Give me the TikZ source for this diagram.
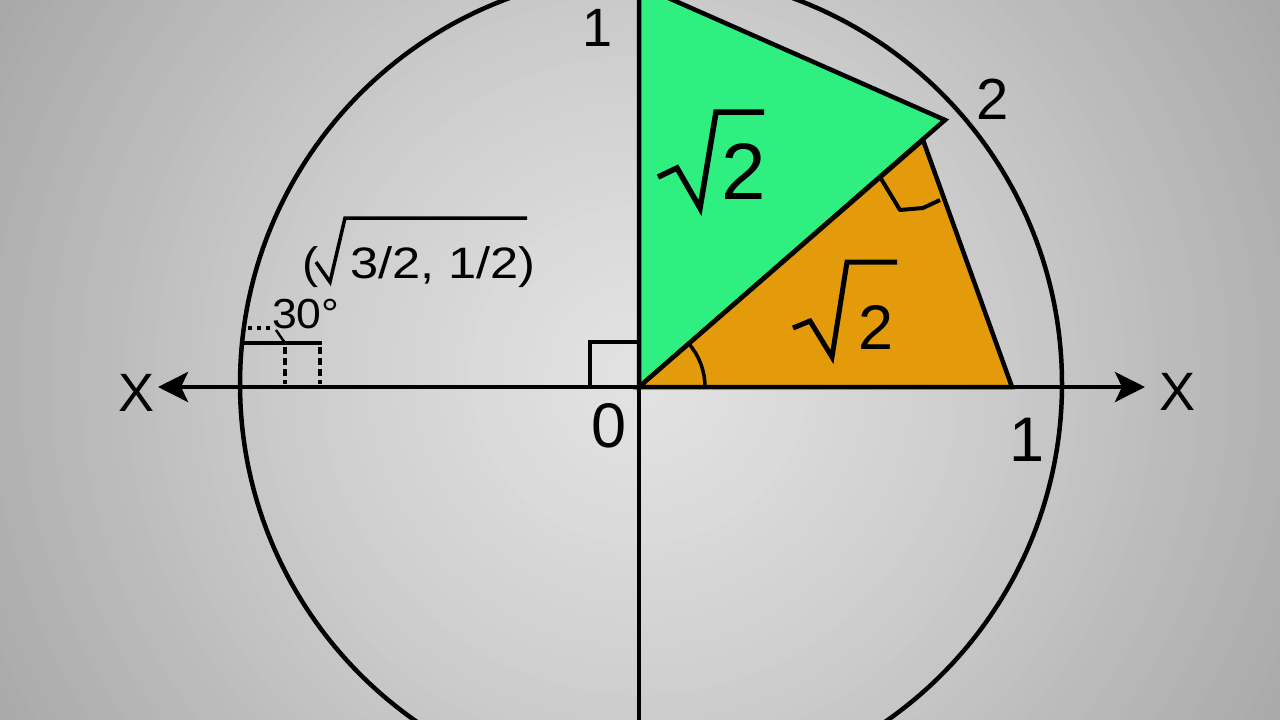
\documentclass[tikz,border=0pt]{standalone}
\usepackage{fontspec}
\setmainfont{Liberation Sans}
\usetikzlibrary{arrows.meta}
\definecolor{grn}{HTML}{2EEF80}
\definecolor{org}{HTML}{E39B0C}
\definecolor{bga}{HTML}{E2E2E2}
\definecolor{bge}{HTML}{A8A8A8}
\tikzset{
  lbl/.style={inner sep=0pt, text=black},
  fig/.style={line width=4.5pt, black, line join=miter},
  axtip/.tip={Stealth[length=30pt,width=30pt,inset=7pt]},
}
\newcommand{\fs}[1]{\fontsize{#1}{#1}\selectfont}
\begin{document}
\begin{tikzpicture}[x=1pt,y=-1pt]
\useasboundingbox (0,0) rectangle (1280,720);
\clip (0,0) rectangle (1280,720);
\coordinate (BG) at (640,375);
\fill[bge] (0,0) rectangle (1280,720);
\foreach \r in {740,725,...,5} {
  \pgfmathsetmacro\p{100*(\r/740)^1.3}
  \fill[bge!\p!bga] (BG) circle (\r pt);
}
% key points
\coordinate (O) at (639,387);
\coordinate (T) at (639,-15);
\coordinate (P) at (945,120);
\coordinate (Q) at (923,140);
\coordinate (R) at (1012,387);
\coordinate (C) at (651,384);
\coordinate (XL) at (158,387);
\coordinate (XR) at (1145,387);
\coordinate (VT) at (639,-5);
\coordinate (VB) at (639,725);
% triangles
\filldraw[fig, fill=grn] (O) -- (T) -- (P) -- cycle;
\filldraw[fig, fill=org] (O) -- (Q) -- (R) -- cycle;
% circle
\draw[fig] (C) circle (411pt);
% axes
\draw[fig, axtip-axtip] (XL) -- (XR);
\draw[fig] (VT) -- (VB);
% right angle square at origin
\coordinate (S1) at (590,387);
\coordinate (S2) at (639,342);
\draw[line width=4pt] (S1) |- (S2);
% angle arc at origin
\coordinate (A0) at (705,387);
\draw[line width=3.5pt] (A0) arc[start angle=0, end angle=41, radius=66pt];
% angle mark at Q
\coordinate (M1) at (880,177);
\coordinate (M2) at (900,210);
\coordinate (M3) at (923,208);
\coordinate (M4) at (940,200);
\draw[line width=4pt, line join=round] (M1) -- (M2) -- (M3) -- (M4);
% sqrt 2 in green
\coordinate (g1) at (658,177);
\coordinate (g2) at (677,168);
\coordinate (g3) at (700,208);
\coordinate (g4) at (716,112);
\coordinate (g5) at (764,112);
\draw[line width=5.5pt, line join=miter] (g1) -- (g2) -- (g3) -- (g4) -- (g5);
\node[lbl, font=\fs{80}] (sg) at (744,171.5) {2};
% sqrt 2 in orange
\coordinate (o1) at (793,328);
\coordinate (o2) at (810,321);
\coordinate (o3) at (832,357);
\coordinate (o4) at (847,262);
\coordinate (o5) at (897,262);
\draw[line width=5pt, line join=miter] (o1) -- (o2) -- (o3) -- (o4) -- (o5);
\node[lbl, font=\fs{63}] (so) at (876,327.5) {2};
% coordinate label
\node[lbl, font=\fs{44}, anchor=base west, xscale=1.1] (lp) at (302,278) {(};
\coordinate (c1) at (316,262);
\coordinate (c2) at (330,282);
\coordinate (c3) at (345,218);
\coordinate (c4) at (527,218);
\draw[line width=3.5pt, line join=miter] (c1) -- (c2) -- (c3) -- (c4);
\node[lbl, font=\fs{44}, anchor=base west, xscale=1.15] (cl) at (350,278) {3/2, 1/2)};
% 30 degree mark
\node[lbl, font=\fs{42}, anchor=base west, xscale=1.06] (deg) at (272,328) {30°};
\coordinate (d1) at (248,328);
\coordinate (d2) at (272,328);
\draw[line width=4pt, dash pattern=on 4pt off 5pt] (d1) -- (d2);
\coordinate (k1) at (276,330);
\coordinate (k2) at (285,343);
\draw[line width=2.5pt] (k1) -- (k2);
\coordinate (h1) at (240,343);
\coordinate (h2) at (322,343);
\draw[line width=4pt] (h1) -- (h2);
\coordinate (v1a) at (285,347);
\coordinate (v1b) at (285,384);
\coordinate (v2a) at (320,347);
\coordinate (v2b) at (320,384);
\draw[line width=4pt, dash pattern=on 7pt off 4pt] (v1a) -- (v1b);
\draw[line width=4pt, dash pattern=on 7pt off 4pt] (v2a) -- (v2b);
% labels
\node[lbl, font=\fs{54}] (n1) at (598,28) {1};
\node[lbl, font=\fs{58}] (n2) at (993,99) {2};
\node[lbl, font=\fs{63}] (n0) at (609,425.5) {0};
\node[lbl, font=\fs{63}] (n1b) at (1027,439.5) {1};
\node[lbl, font=\fs{54}] (xl) at (137,393) {X};
\node[lbl, font=\fs{54}] (xr) at (1177,392) {X};
\end{tikzpicture}
\end{document}
